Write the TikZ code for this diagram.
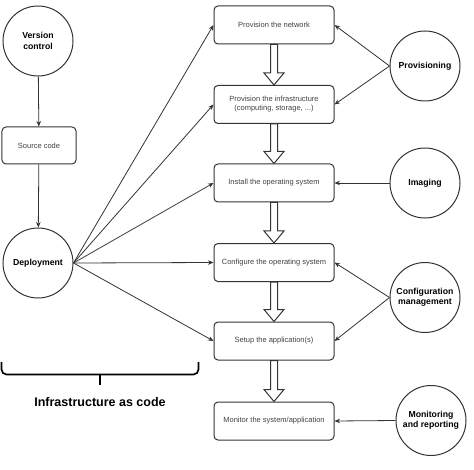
\documentclass[tikz,border=0pt]{standalone}
\usepackage{fontspec}
\setmainfont{Liberation Sans}
\usetikzlibrary{calc,arrows.meta}
\definecolor{lc}{HTML}{333333}
\definecolor{tc}{HTML}{404040}
\tikzset{
  boxn/.style={draw=lc, line width=1bp, rounded corners=4bp, minimum width=120bp, minimum height=38bp, align=center, text=tc, font=\fontsize{7.5bp}{9bp}\selectfont, inner sep=1bp},
  circn/.style={draw=lc, line width=1bp, circle, minimum size=70bp, inner sep=0pt, align=center, font=\bfseries\fontsize{8.7bp}{10.5bp}\selectfont, text=black},
  conn/.style={draw=lc, line width=0.8bp, -{Stealth[length=5.5bp,width=4.5bp]}},
  hol/.style={draw=lc, line width=1bp, fill=white, line join=miter},
  bracestyle/.style={draw=black, line width=1.7bp, rounded corners=5bp}
}
\newcommand{\hollowarrow}[2]{%
  \draw[hol] ($(#1.south)+(-3.5,0)$) -- ($(#2.north)+(-3.5,-12)$) -- ($(#2.north)+(-10,-12)$) -- (#2.north) -- ($(#2.north)+(10,-12)$) -- ($(#2.north)+(3.5,-12)$) -- ($(#1.south)+(3.5,0)$) -- cycle;}
\begin{document}
\begin{tikzpicture}[x=1bp,y=-1bp]
\useasboundingbox (0,0) rectangle (474,470);
% left column
\node[circn] (vc) at (38,41) {Version\\control};
\node[boxn, minimum width=74bp, minimum height=37bp] (sc) at (39,145.5) {Source code};
\node[circn] (dep) at (38,263) {Deployment};
\draw[conn] (vc) -- (sc);
\draw[conn] (sc) -- (dep);
% middle column
\node[boxn] (b1) at (274,25) {Provision the network};
\node[boxn] (b2) at (274,104.5) {Provision the infrastructure\\(computing, storage, ...)};
\node[boxn] (b3) at (274,183) {Install the operating system};
\node[boxn] (b4) at (274,262.5) {Configure the operating system};
\node[boxn] (b5) at (274,341) {Setup the application(s)};
\node[boxn] (b6) at (274,421) {Monitor the system/application};
\hollowarrow{b1}{b2}
\hollowarrow{b2}{b3}
\hollowarrow{b3}{b4}
\hollowarrow{b4}{b5}
\hollowarrow{b5}{b6}
% right column
\node[circn] (prov) at (425,66) {Provisioning};
\node[circn] (img) at (425,183) {Imaging};
\node[circn] (cfg) at (425,297.5) {Configuration\\management};
\node[circn] (mon) at (431,420.5) {Monitoring\\and reporting};
% deployment connectors
\foreach \b in {b1,b2,b3,b4,b5} \draw[conn] (dep.east) -- (\b.west);
% right connectors
\draw[conn] (prov.west) -- (b1.east);
\draw[conn] (prov.west) -- (b2.east);
\draw[conn] (img.west) -- (b3.east);
\draw[conn] (cfg.west) -- (b4.east);
\draw[conn] (cfg.west) -- (b5.east);
\draw[conn] (mon.west) -- (b6.east);
% brace
\coordinate (brL) at (1.5,362);
\coordinate (brR) at (198.5,362);
\coordinate (brM) at (100,374.5);
\coordinate (brT) at (100,385);
\draw[bracestyle] (brL) |- (brM) -| (brR);
\draw[draw=black, line width=1.7bp] (brM) -- (brT);
\node[font=\bfseries\fontsize{12.5bp}{15bp}\selectfont] (iac) at (100,402) {Infrastructure as code};
\end{tikzpicture}
\end{document}
